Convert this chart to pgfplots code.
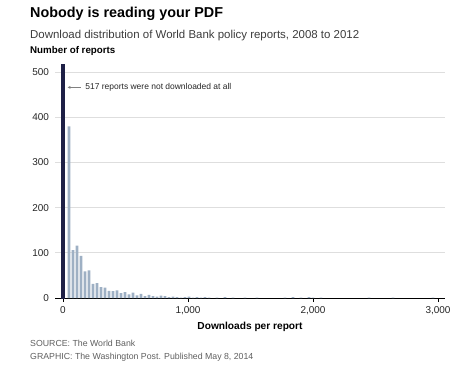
\documentclass[border=0pt]{standalone}
\usepackage{pgfplots}
\pgfplotsset{compat=1.18}
\usetikzlibrary{arrows.meta}
\usepackage{fontspec}
\setmainfont{Liberation Sans}
\definecolor{barblue}{RGB}{158,176,196}
\definecolor{navy}{RGB}{30,32,70}
\definecolor{gridgray}{RGB}{222,222,222}
\definecolor{subgray}{RGB}{60,60,60}
\definecolor{srcgray}{RGB}{95,95,95}
\begin{document}
\begin{tikzpicture}[x=1bp,y=1bp]
\path[use as bounding box] (0,0) rectangle (474,367);
\node[anchor=base west,inner sep=0pt,font=\bfseries\fontsize{14.4}{16}\selectfont] at (30,350) {Nobody is reading your PDF};
\node[anchor=base west,inner sep=0pt,text=subgray,font=\fontsize{11.5}{13}\selectfont] at (30,329) {Download distribution of World Bank policy reports, 2008 to 2012};
\node[anchor=base west,inner sep=0pt,font=\bfseries\fontsize{9.8}{11}\selectfont] at (30,314) {Number of reports};
\node[anchor=base west,inner sep=0pt,text=srcgray,font=\fontsize{8.8}{10}\selectfont] at (30,21) {SOURCE: The World Bank};
\node[anchor=base west,inner sep=0pt,text=srcgray,font=\fontsize{8.8}{10}\selectfont] at (30,8) {GRAPHIC: The Washington Post. Published May 8, 2014};
\begin{axis}[
  at={(55bp,69bp)}, anchor=south west,
  scale only axis, width=390bp, height=235bp,
  xmin=-64, xmax=3056, ymin=0, ymax=520,
  axis x line*=bottom, axis y line*=left,
  y axis line style={draw=none},
  x axis line style={black, line width=0.6pt, -},
  xtick={0,1000,2000,3000},
  xticklabels={0,{1,000},{2,000},{3,000}},
  ytick={0,100,200,300,400,500},
  tick align=outside,
  major tick length=4bp,
  xtick style={black, line width=0.5pt},
  ytick style={draw=none},
  ymajorgrids, grid style={gridgray, line width=0.8pt},
  /pgf/number format/assume math mode=true,
  ticklabel style={font=\fontsize{10}{12}\selectfont, text=black!85},
  xticklabel style={yshift=-1bp},
  yticklabel style={xshift=1.5bp},
  xlabel={Downloads per report},
  xlabel style={font=\bfseries\fontsize{10.2}{12}\selectfont, yshift=-1bp},
  clip=false,
]
\addplot[ybar, bar width=23, fill=barblue, draw=none] coordinates {
(48,380) (80,106) (112,116) (144,93) (176,59) (208,61) (240,31) (272,33)
(304,24) (336,23) (368,16) (400,15) (432,17) (464,11) (496,13) (528,8)
(560,12) (592,6) (624,9) (656,4) (688,7) (720,4) (752,3) (784,5) (816,4)
(848,2) (880,3) (912,2) (944,1) (976,2) (1008,3) (1040,1) (1072,2) (1104,1)
(1136,2) (1168,1) (1232,1) (1296,2) (1360,1) (1456,1) (1552,1) (1776,1)
(1840,2) (1904,1) (1968,2) (2000,1) (2064,1) (2448,1) (2640,1) (2960,1)
};
\addplot[ybar, bar width=22, fill=navy, draw=navy] coordinates {(0,517)};
\draw[gray, line width=0.6pt, -{Latex[length=3bp,width=3bp]}] (axis cs:140,466) -- (axis cs:35,466);
\node[anchor=west, font=\fontsize{8.5}{10}\selectfont, text=black!85, inner sep=1bp] at (axis cs:170,466) {517 reports were not downloaded at all};
\end{axis}
\end{tikzpicture}
\end{document}
